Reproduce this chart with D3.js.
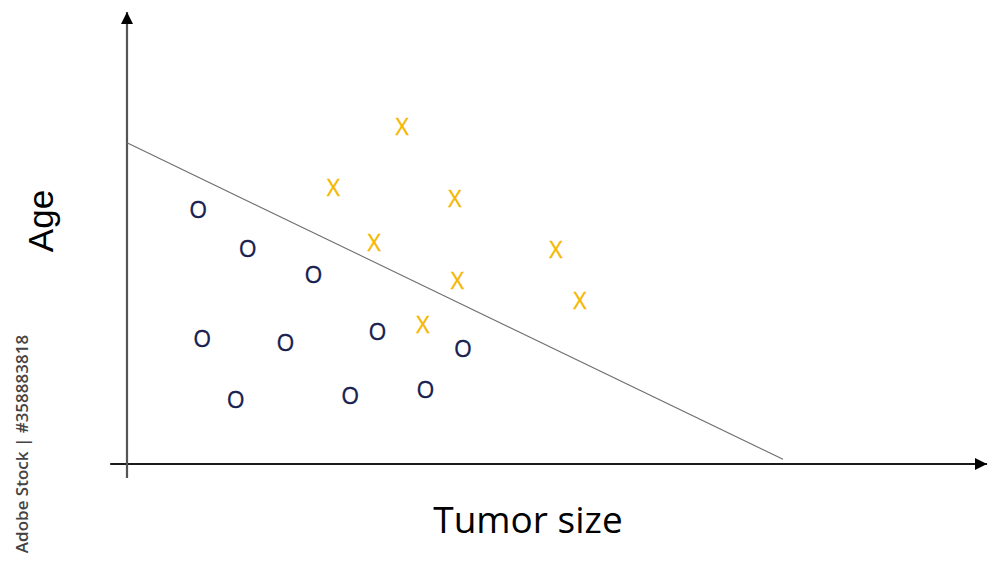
<!DOCTYPE html>
<html>
<head>
<meta charset="utf-8">
<script src="https://cdn.jsdelivr.net/npm/d3@7"></script>
<style>
  html, body { margin: 0; padding: 0; background: #fff; }
  svg { display: block; }
</style>
</head>
<body>
<svg id="chart" width="1000" height="569"></svg>
<script>
// ---- data ----
const classO = [
  [0.89, 6.35], [1.51, 5.38], [2.33, 4.73], [0.94, 3.13], [1.98, 3.03],
  [3.13, 3.30], [4.20, 2.88], [1.36, 1.60], [2.79, 1.70], [3.73, 1.85]
];
const classX = [
  [3.44, 8.43], [2.58, 6.90], [4.10, 6.63], [3.09, 5.53], [5.36, 5.35],
  [4.13, 4.58], [5.66, 4.08], [3.70, 3.48]
];
const boundary = [[0, 8.03], [8.2, 0.12]];
const xAxisExtent = [-0.21, 10.75];
const yAxisExtent = [-0.35, 11.3];
const xLabel = "Tumor size";
const yLabel = "Age";
const watermark = "Adobe Stock | #358883818";

// ---- scales ----
const x = d3.scaleLinear().domain([0, 10]).range([127, 927]);
const y = d3.scaleLinear().domain([0, 10]).range([464, 64]);

const svg = d3.select("#chart");

const defs = svg.append("defs");
defs.append("marker")
  .attr("id", "arrow")
  .attr("viewBox", "0 0 12 12")
  .attr("refX", 12).attr("refY", 6)
  .attr("markerWidth", 12).attr("markerHeight", 12)
  .attr("markerUnits", "userSpaceOnUse")
  .attr("orient", "auto")
  .append("path")
  .attr("d", "M0,0 L12,6 L0,12 Z")
  .attr("fill", "#000");

// axes
svg.append("line")
  .attr("x1", x(xAxisExtent[0])).attr("y1", y(0))
  .attr("x2", x(xAxisExtent[1])).attr("y2", y(0))
  .attr("stroke", "#1a1a1a").attr("stroke-width", 1.8)
  .attr("marker-end", "url(#arrow)");

svg.append("line")
  .attr("x1", x(0)).attr("y1", y(yAxisExtent[0]))
  .attr("x2", x(0)).attr("y2", y(yAxisExtent[1]))
  .attr("stroke", "#555").attr("stroke-width", 2.2)
  .attr("marker-end", "url(#arrow)");

// decision boundary
svg.append("line")
  .attr("x1", x(boundary[0][0])).attr("y1", y(boundary[0][1]))
  .attr("x2", x(boundary[1][0])).attr("y2", y(boundary[1][1]))
  .attr("stroke", "#6e6e6e").attr("stroke-width", 1.1);

// points
const markFont = "'Open Sans', 'Noto Sans', sans-serif";
svg.append("g").selectAll("text")
  .data(classO).join("text")
  .attr("x", d => x(d[0])).attr("y", d => y(d[1]))
  .attr("dy", "0.36em")
  .attr("text-anchor", "middle")
  .attr("font-family", markFont).attr("font-size", 23)
  .attr("fill", "#17204f")
  .attr("stroke", "#17204f").attr("stroke-width", 0.3)
  .text("O");

svg.append("g").selectAll("text")
  .data(classX).join("text")
  .attr("x", d => x(d[0])).attr("y", d => y(d[1]))
  .attr("dy", "0.36em")
  .attr("text-anchor", "middle")
  .attr("font-family", markFont).attr("font-size", 23)
  .attr("fill", "#f5b700")
  .attr("stroke", "#f5b700").attr("stroke-width", 0.3)
  .text("X");

// labels
svg.append("text")
  .attr("x", 528).attr("y", 533)
  .attr("text-anchor", "middle")
  .attr("font-family", "'Open Sans', 'Noto Sans', sans-serif")
  .attr("font-size", 37)
  .attr("fill", "#000")
  .text(xLabel);

svg.append("text")
  .attr("transform", "translate(53,221) rotate(-90)")
  .attr("text-anchor", "middle")
  .attr("font-family", "'Liberation Sans', Arial, sans-serif")
  .attr("font-size", 35)
  .attr("fill", "#000")
  .text(yLabel);

svg.append("text")
  .attr("transform", "translate(28,444) rotate(-90)")
  .attr("text-anchor", "middle")
  .attr("font-family", "'Open Sans', 'Noto Sans', sans-serif")
  .attr("font-weight", 600)
  .attr("font-size", 17)
  .attr("fill", "#444")
  .text(watermark);
</script>
</body>
</html>
